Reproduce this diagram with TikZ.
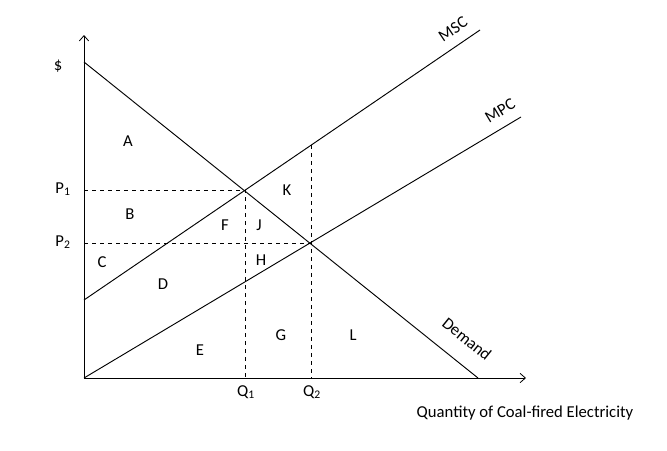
\documentclass[tikz,border=0pt]{standalone}
\usepackage{fontspec}
\setmainfont{Carlito}
\usetikzlibrary{arrows.meta}
\begin{document}
\begin{tikzpicture}[x=0.75pt,y=-0.75pt,font=\fontsize{12.5}{15}\selectfont,
  curve/.style={black,line width=0.7pt},
  guide/.style={black,dashed,line width=0.5pt},
  lab/.style={inner sep=0pt}]
\useasboundingbox (0,0) rectangle (667,450);
\coordinate (O) at (84,378);
\coordinate (Ytop) at (84,35);
\coordinate (Xend) at (526,378);
\draw[-{Straight Barb[length=4pt,width=7pt]},line width=0.6pt] (O) -- (Ytop);
\draw[-{Straight Barb[length=4pt,width=7pt]},line width=0.6pt] (O) -- (Xend);
\coordinate (d1) at (84,62); \coordinate (d2) at (478,378);
\coordinate (s1) at (84,300); \coordinate (s2) at (480,30);
\coordinate (p2) at (521,117);
\draw[curve] (d1) -- (d2);
\draw[curve] (s1) -- (s2);
\draw[curve] (O) -- (p2);
\coordinate (e1) at (245,190); \coordinate (e2) at (311,243);
\draw[guide] (84,190) -- (e1) -- (245,378);
\draw[guide] (84,243) -- (e2);
\draw[guide] (311,145) -- (311,378);
\node[lab] (dollar) at (58,66) {\$};
\node[lab] (P1) at (63,189) {P\textsubscript{1}};
\node[lab] (P2) at (63,242) {P\textsubscript{2}};
\node[lab] (Q1) at (246,392) {Q\textsubscript{1}};
\node[lab] (Q2) at (312,392) {Q\textsubscript{2}};
\node[lab] (A) at (128,141) {A};
\node[lab] (B) at (130,214) {B};
\node[lab] (C) at (102,262) {C};
\node[lab] (D) at (163,284) {D};
\node[lab] (E) at (200,350) {E};
\node[lab] (F) at (225,225) {F};
\node[lab] (J) at (259,225) {J};
\node[lab] (H) at (261,260) {H};
\node[lab] (K) at (287,190) {K};
\node[lab] (G) at (281,335) {G};
\node[lab] (L) at (353,335) {L};
\node[lab,rotate=34] (msc) at (453,29) {MSC};
\node[lab,rotate=31] (mpc) at (500,111) {MPC};
\node[lab,rotate=-39] (dem) at (467,339) {Demand};
\node[lab] (qty) at (525,413) {Quantity of Coal-fired Electricity};
\end{tikzpicture}
\end{document}
